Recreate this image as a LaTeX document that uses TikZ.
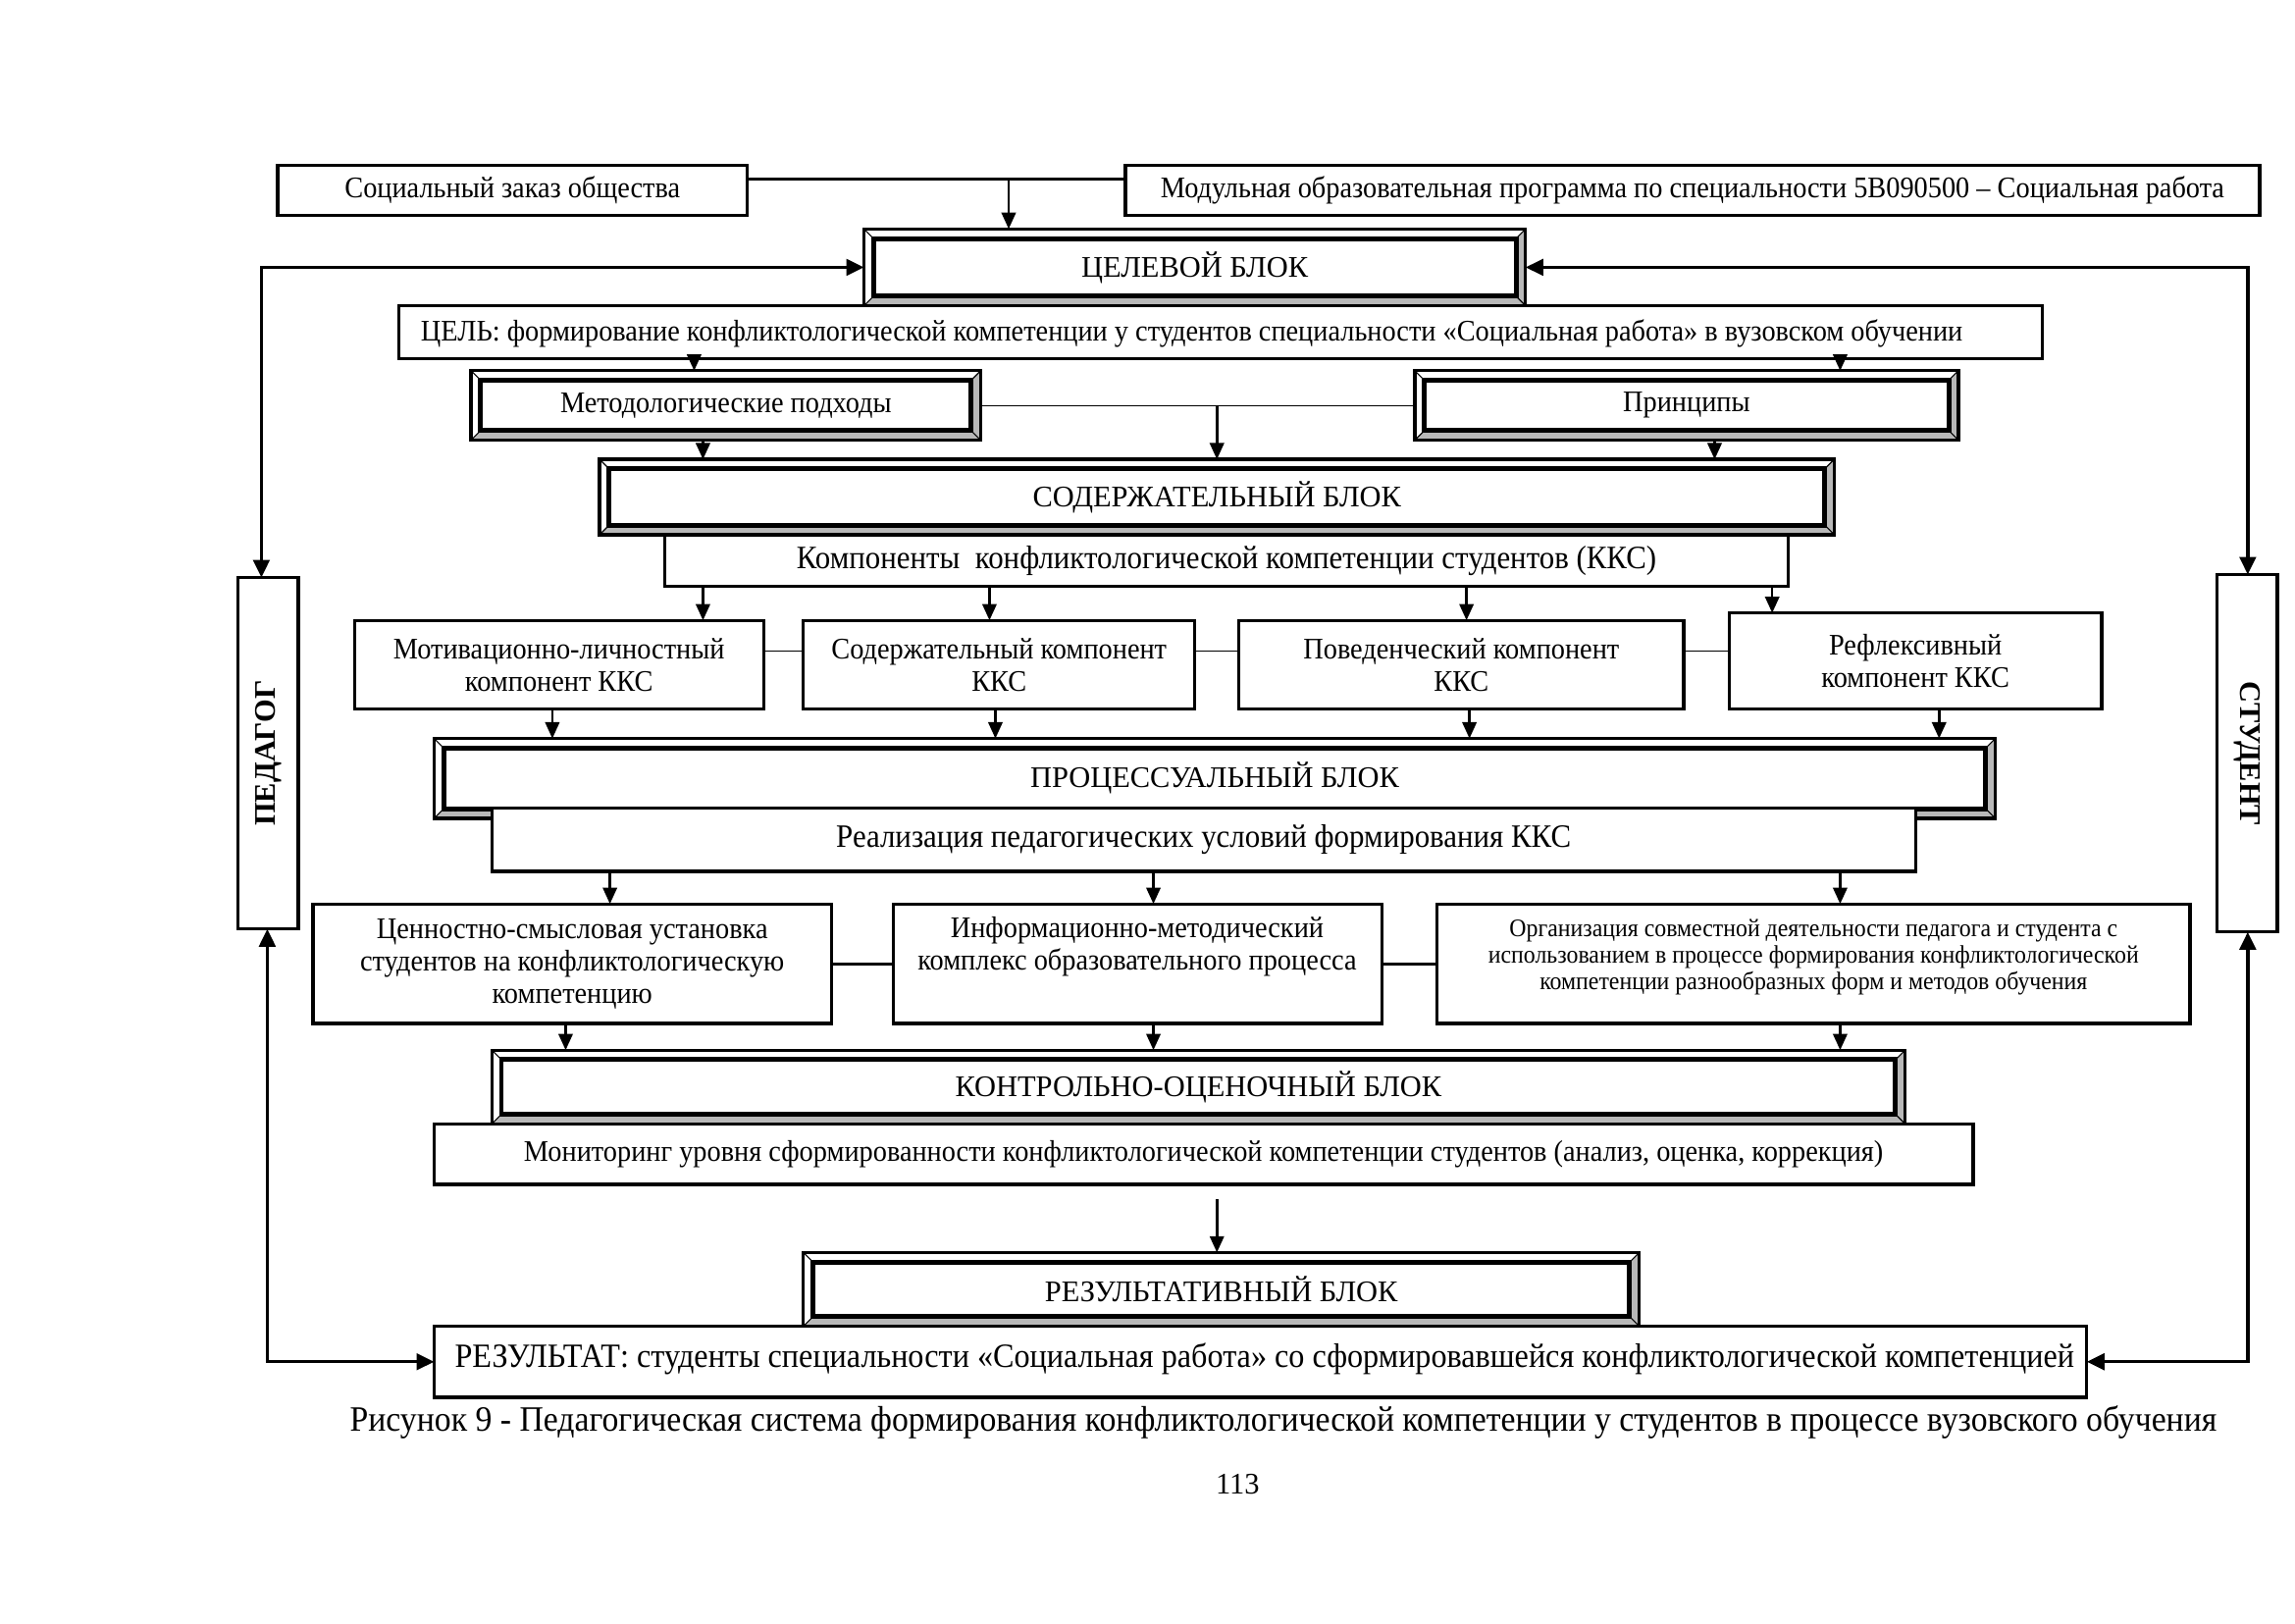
\documentclass[tikz,border=0pt]{standalone}
\usepackage{fontspec}
\setmainfont{Liberation Serif}
\newfontfamily\cf[FakeStretch=0.93]{Liberation Serif}
\usetikzlibrary{arrows.meta}
\definecolor{bevgray}{gray}{0.72}
\newcommand\U{0.01911cm}
\newcommand\bv{6.5}
\newcommand\fsmain{\cf\fontsize{11}{11.9}\selectfont}
\newcommand\fscaps{\fontsize{11}{12}\selectfont}
\newcommand\fsbig{\cf\fontsize{12}{13}\selectfont}
\newcommand\fsres{\cf\fontsize{12.5}{14}\selectfont}
\newcommand\fscap{\cf\fontsize{13.1}{15}\selectfont}
\newcommand\fssmall{\cf\fontsize{9.25}{9.75}\selectfont}
\tikzset{
 box/.style={draw, line width=1.2pt, fill=white, inner sep=1pt, outer sep=0pt, align=center, font=\fsmain},
 lbl/.style={inner sep=0pt, outer sep=0pt, align=center, font=\fsmain},
 arr/.style={line width=0.9pt, -{Triangle[length=6pt,width=5.2pt]}},
 barr/.style={line width=1.2pt, {Triangle[length=6.5pt,width=6pt]}-{Triangle[length=6.5pt,width=6pt]}},
 thinl/.style={line width=0.4pt},
 midl/.style={line width=1.1pt},
 bevtext/.style={inner sep=0pt, outer sep=0pt, font=\fscaps},
}
\newcommand\bevel[6]{%
 \fill[bevgray] (#2,#3) rectangle (#4,#5);
 \fill[white] (#2,#3) -- (#4,#3) -- ({#4-\bv},{#3+\bv}) -- ({#2+\bv},{#3+\bv}) -- ({#2+\bv},{#5-\bv}) -- (#2,#5) -- cycle;
 \fill[white] ({#2+\bv},{#3+\bv}) rectangle ({#4-\bv},{#5-\bv});
 \draw[line width=0.4pt] (#2,#3) -- ({#2+\bv},{#3+\bv}) (#4,#3) -- ({#4-\bv},{#3+\bv}) (#2,#5) -- ({#2+\bv},{#5-\bv}) (#4,#5) -- ({#4-\bv},{#5-\bv});
 \draw[line width=1.8pt] ({#2+\bv},{#3+\bv}) rectangle ({#4-\bv},{#5-\bv});
 \draw[line width=1.2pt] (#2,#3) rectangle (#4,#5);
 \node[bevtext, minimum width={(#4-#2)*\U}, minimum height={(#5-#3)*\U}] (#1) at ({(#2+#4)/2},{(#3+#5)/2}) {#6};
}
\newcommand\bx[7]{\node[box,#2,minimum width={(#5-#3)*\U},minimum height={(#6-#4)*\U}] (#1) at ({(#3+#5)/2},{(#4+#6)/2}) {#7};}
\begin{document}
\begin{tikzpicture}[x=0.01911cm, y=-0.01911cm]
\path[use as bounding box, fill=white] (0,0) rectangle (1554,1099);

% top inputs
\bx{soc}{}{188}{112}{506}{146}{Социальный заказ общества}
\bx{mod}{}{762}{112}{1530}{146}{Модульная образовательная программа по специальности 5В090500 – Социальная работа}
\coordinate (tj) at (683,121);
\draw[midl] (soc.east |- tj) -- (mod.west |- tj);

% target block
\bevel{cel}{585}{155}{1033}{207}{ЦЕЛЕВОЙ БЛОК}
\draw[arr] (tj) -- (cel.north -| tj);
\bx{goal}{}{270}{207}{1383}{243}{}
\node[lbl, anchor=west] (goalt) at (285,226) {ЦЕЛЬ: формирование конфликтологической компетенции у студентов специальности «Социальная работа» в вузовском обучении};

\bevel{met}{319}{251}{664}{298}{\fsmain Методологические подходы}
\bevel{pri}{958}{251}{1326}{298}{\fsmain Принципы}
\draw[arr] (goal.south -| 470,0) -- (met.north -| 470,0);
\draw[arr] (goal.south -| 1246,0) -- (pri.north -| 1246,0);

% content block
\bevel{sod}{406}{311}{1242}{362}{СОДЕРЖАТЕЛЬНЫЙ БЛОК}
\draw[thinl] (met.east) -- (pri.west);
\draw[arr] (met.east -| sod.north) -- (sod.north);
\draw[arr] (met.south -| 476,0) -- (sod.north -| 476,0);
\draw[arr] (pri.south -| 1161,0) -- (sod.north -| 1161,0);
\bx{kom}{font=\fsbig}{450}{362}{1211}{397}{Компоненты~~конфликтологической компетенции студентов (ККС)}

\bx{c1}{}{240}{420}{517}{480}{Мотивационно-личностный\\компонент ККС}
\bx{c2}{}{544}{420}{809}{480}{Содержательный компонент\\ККС}
\bx{c3}{}{839}{420}{1140}{480}{Поведенческий компонент\\ККС}
\bx{c4}{}{1171}{415}{1423}{480}{Рефлексивный\\компонент ККС}
\draw[thinl] (c1.east |- 0,441) -- (c2.west |- 0,441);
\draw[thinl] (c2.east |- 0,441) -- (c3.west |- 0,441);
\draw[thinl] (c3.east |- 0,441) -- (c4.west |- 0,441);
\draw[arr] (kom.south -| 476,0) -- (c1.north -| 476,0);
\draw[arr] (kom.south -| 670,0) -- (c2.north -| 670,0);
\draw[arr] (kom.south -| 993,0) -- (c3.north -| 993,0);
\draw[arr] (kom.south -| 1200,0) -- (c4.north -| 1200,0);

% process block
\bevel{pro}{294}{500}{1351}{554}{ПРОЦЕССУАЛЬНЫЙ БЛОК}
\draw[arr] (c1.south -| 374,0) -- (pro.north -| 374,0);
\draw[arr] (c2.south -| 674,0) -- (pro.north -| 674,0);
\draw[arr] (c3.south -| 995,0) -- (pro.north -| 995,0);
\draw[arr] (c4.south -| 1313,0) -- (pro.north -| 1313,0);
\bx{real}{font=\fsbig}{333}{547}{1297}{590}{Реализация педагогических условий формирования ККС}

\bx{b1}{}{212}{612}{563}{693}{Ценностно-смысловая установка\\студентов на конфликтологическую\\компетенцию}
\bx{b2}{}{605}{612}{936}{693}{}
\node[lbl, anchor=north] (b2t) at (770,621) {Информационно-методический\\комплекс образовательного процесса};
\bx{b3}{}{973}{612}{1483}{693}{}
\node[lbl, font=\fssmall] (b3t) at (1228,648) {Организация совместной деятельности педагога и студента с\\использованием в процессе формирования конфликтологической\\компетенции разнообразных форм и методов обучения};
\draw[midl] (b1.east) -- (b2.west);
\draw[midl] (b2.east) -- (b3.west);
\draw[arr] (real.south -| 413,0) -- (b1.north -| 413,0);
\draw[arr] (real.south -| 781,0) -- (b2.north -| 781,0);
\draw[arr] (real.south -| 1246,0) -- (b3.north -| 1246,0);

% control block
\bevel{kon}{333}{711}{1290}{761}{КОНТРОЛЬНО-ОЦЕНОЧНЫЙ БЛОК}
\draw[arr] (b1.south -| 383,0) -- (kon.north -| 383,0);
\draw[arr] (b2.south -| 781,0) -- (kon.north -| 781,0);
\draw[arr] (b3.south -| 1246,0) -- (kon.north -| 1246,0);
\bx{mon}{}{294}{761}{1336}{802}{Мониторинг уровня сформированности конфликтологической компетенции студентов (анализ, оценка, коррекция)}

% result block
\bevel{res}{544}{848}{1110}{898}{РЕЗУЛЬТАТИВНЫЙ БЛОК}
\coordinate (ms) at (824,812);
\draw[arr] (ms) -- (res.north -| ms);
\bx{rez}{}{294}{898}{1413}{946}{}
\node[lbl, anchor=west, font=\fsres] (rezt) at (308,920) {РЕЗУЛЬТАТ: студенты специальности «Социальная работа» со сформировавшейся конфликтологической компетенцией};

% side actors
\bx{ped}{}{161}{391}{202}{629}{}
\node[lbl, rotate=90, font=\fscaps\bfseries] (pedt) at (ped) {ПЕДАГОГ};
\bx{stu}{}{1501}{389}{1542}{631}{}
\node[lbl, rotate=-90, font=\fscaps\bfseries] (stut) at (stu) {СТУДЕНТ};
\draw[barr] (ped.north -| 177,0) |- (cel.west);
\draw[barr] (stu.north -| 1522,0) |- (cel.east);
\draw[barr] (ped.south -| 181,0) |- (rez.west);
\draw[barr] (stu.south -| 1522,0) |- (rez.east);

% caption
\node[lbl, font=\fscap] (cap) at (869,963) {Рисунок 9 - Педагогическая система формирования конфликтологической компетенции у студентов в процессе вузовского обучения};
\node[lbl, font=\fscaps] (pg) at (838,1005) {113};
\end{tikzpicture}
\end{document}
